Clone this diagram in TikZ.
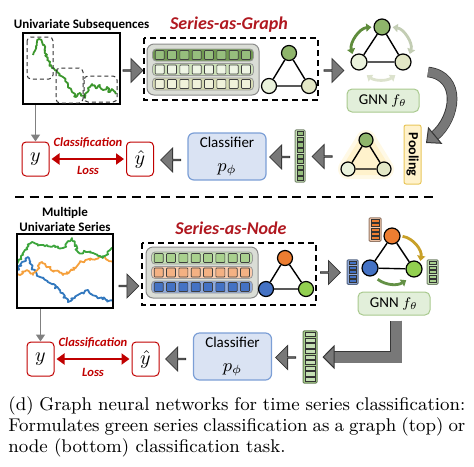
\documentclass[tikz,border=0pt]{standalone}
\usepackage{fontspec}
\setsansfont{Carlito}
\usetikzlibrary{shapes.arrows, arrows.meta, decorations.pathmorphing}

% Colours
\definecolor{titlered}{RGB}{176,24,32}
\definecolor{lossred}{RGB}{192,0,0}
\definecolor{nodegreen}{RGB}{143,181,107}
\definecolor{nodepale}{RGB}{234,242,220}
\definecolor{nodecream}{RGB}{227,231,198}
\definecolor{nodeorange}{RGB}{237,125,49}
\definecolor{nodeblue}{RGB}{68,114,196}
\definecolor{nodelime}{RGB}{146,208,80}
\definecolor{arrowgray}{RGB}{120,120,120}
\definecolor{arrowdark}{RGB}{55,55,55}
\definecolor{seriesgreen}{RGB}{60,150,45}
\definecolor{tsgreen}{RGB}{60,165,60}
\definecolor{tsorange}{RGB}{245,160,60}
\definecolor{tsblue}{RGB}{50,120,190}
\definecolor{rowAbg}{RGB}{112,153,80}
\definecolor{rowAfg}{RGB}{150,190,125}
\definecolor{rowBbg}{RGB}{205,225,185}
\definecolor{rowBfg}{RGB}{238,245,228}
\definecolor{rowCbg}{RGB}{215,220,180}
\definecolor{rowCfg}{RGB}{240,242,218}
\definecolor{greenbg}{RGB}{197,224,180}
\definecolor{greenfg}{RGB}{169,209,142}
\definecolor{orangebg}{RGB}{248,203,173}
\definecolor{orangefg}{RGB}{244,177,131}
\definecolor{bluebg}{RGB}{143,170,220}
\definecolor{bluefg}{RGB}{68,114,196}
\definecolor{encfill}{RGB}{218,221,214}
\definecolor{clsfill}{RGB}{218,227,243}
\definecolor{clsborder}{RGB}{124,159,214}
\definecolor{gnnfill}{RGB}{226,239,218}
\definecolor{gnnborder}{RGB}{169,201,142}
\definecolor{poolfill}{RGB}{255,242,204}
\definecolor{poolborder}{RGB}{232,198,90}
\definecolor{glowin}{RGB}{255,242,204}
\definecolor{glowout}{RGB}{255,249,230}
\definecolor{msgdark}{RGB}{95,140,60}
\definecolor{msglight}{RGB}{195,205,180}
\definecolor{msgpale}{RGB}{220,226,205}
\definecolor{msggold}{RGB}{200,160,40}
\definecolor{msggreen}{RGB}{100,145,70}

\tikzset{
  every node/.style={font=\sffamily},
  headtext/.style={font=\sffamily\bfseries\fontsize{6.5}{7.5}\selectfont, align=center},
  seriestitle/.style={text=titlered, font=\sffamily\bfseries\itshape\fontsize{9}{10}\selectfont},
  plotbox/.style={draw=black, line width=1pt, inner sep=0pt},
  winbox/.style={draw=black!80, line width=0.5pt, dash pattern=on 2pt off 1.5pt, rounded corners=2pt},
  seriesline/.style={line width=0.9pt, line join=round, decorate,
    decoration={random steps, segment length=0.9pt, amplitude=0.8pt}},
  dashbox/.style={draw=black, line width=0.8pt, dash pattern=on 3pt off 2pt},
  encbox/.style={draw=black!45, fill=encfill, line width=0.5pt, rounded corners=3.5pt,
    minimum width=56pt, minimum height=25.5pt, inner sep=0pt},
  rowbox/.style={draw=black!40, line width=0.4pt, rounded corners=1.8pt,
    minimum width=50.5pt, minimum height=6pt, inner sep=0pt},
  enccell/.style={draw=black!75, line width=0.35pt, rounded corners=0.4pt,
    minimum size=4.5pt, inner sep=0pt},
  gnode/.style={circle, draw=black, line width=0.6pt, minimum size=7.5pt, inner sep=0pt},
  bignode/.style={gnode, minimum size=8pt},
  gedge/.style={line width=0.7pt},
  blockarrow/.style={single arrow, draw=arrowdark, fill=arrowgray, line width=0.4pt, inner sep=0pt,
    minimum height=10pt, minimum width=12pt, single arrow head extend=2.8pt},
  leftarrow/.style={blockarrow, shape border rotate=180},
  bigarrow/.style={draw=arrowgray, line width=5.5pt, line join=miter,
    -{Triangle[length=6pt, width=12pt, color=arrowdark, fill=arrowgray, line width=0.5pt]},
    preaction={draw=arrowdark, line width=6.3pt, -, shorten >=5.5pt}},
  bendarrow/.style={draw=arrowgray, line width=4.5pt,
    -{Triangle[length=6pt, width=11pt, color=arrowdark, fill=arrowgray, line width=0.5pt]},
    preaction={draw=arrowdark, line width=5.3pt, -, shorten >=5.5pt}},
  msgarrow/.style={line width=1.4pt, shorten <=1pt, shorten >=1pt},
  msgtip/.style={{Triangle[length=2.6pt, width=4pt]}-{Triangle[length=2.6pt, width=4pt]}},
  vecbg/.style={line width=0.5pt, rounded corners=0.6pt, inner sep=0pt},
  veccell/.style={draw=black!80, line width=0.35pt, inner sep=0pt},
  gnnbox/.style={draw=gnnborder, fill=gnnfill, line width=0.5pt, rounded corners=2.5pt,
    minimum width=36pt, minimum height=11.5pt, inner sep=0pt, font=\sffamily\fontsize{7.5}{9}\selectfont},
  poolbox/.style={draw=poolborder, fill=poolfill, line width=0.5pt, rounded corners=1pt,
    minimum width=29.5pt, minimum height=8.5pt, inner sep=0pt, rotate=-90,
    font=\sffamily\bfseries\fontsize{7}{8}\selectfont},
  classbox/.style={draw=clsborder, fill=clsfill, line width=0.6pt, rounded corners=3pt,
    minimum width=39pt, minimum height=23.5pt, align=center, inner sep=0pt,
    font=\sffamily\fontsize{7.5}{9}\selectfont},
  labelbox/.style={draw=lossred, line width=0.5pt, rounded corners=2pt, minimum width=13.5pt,
    minimum height=17pt, inner sep=0pt, font=\fontsize{10}{12}\selectfont},
  lossarrow/.style={draw=lossred, line width=1.1pt, shorten <=1pt, shorten >=1pt,
    {Triangle[length=4pt, width=5.5pt]}-{Triangle[length=4pt, width=5.5pt]}},
  losstext/.style={text=lossred, font=\sffamily\bfseries\itshape\fontsize{6.3}{7}\selectfont},
  feed/.style={draw=black!50, line width=0.7pt, -{Triangle[length=3.5pt, width=4.5pt]}},
}

\begin{document}
\begin{tikzpicture}[x=0.5pt, y=-0.5pt]
\useasboundingbox (0,0) rectangle (474,466);
\pgfmathsetseed{11}

% ===== Series-as-Graph (top) =====
% Input series
\node[headtext] at (81.5,25) {Univariate Subsequences};
\begin{scope}
  \clip (23,33) rectangle (120,104);
  \draw[seriesline, draw=seriesgreen] (33,55) -- (36,46) -- (39,39) -- (42,42) -- (45,50) -- (48,60)
    -- (52,68) -- (57,72) -- (63,77) -- (68,85) -- (72,92) -- (76,97) -- (80,93) -- (85,98)
    -- (88,88) -- (92,84) -- (97,88) -- (100,85) -- (103,90) -- (107,87) -- (110,92) -- (113,90) -- (116,94);
\end{scope}
\node[plotbox, minimum width=48.5pt, minimum height=35.5pt] (plotA) at (71.5,68.5) {};
\foreach \a/\b/\c/\d in {27/37/53/79, 56/68/83/103, 84/76/117/102}
  \draw[winbox] (\a,\b) rectangle (\c,\d);

\node[blockarrow] (arA1) at (132.5,70.5) {};

% Encoded subsequences and graph
\node[seriestitle] at (229,25) {Series-as-Graph};
\draw[dashbox] (144,38) rectangle (318,100);
\node[encbox] (encA) at (203,69.5) {};
\foreach \dy/\bg/\fg in {-14.5/rowAbg/rowAfg, 0/rowBbg/rowBfg, 14.5/rowCbg/rowCfg}{
  \node[rowbox, fill=\bg] at (203,69.5+\dy) {};
  \foreach \k in {0,...,7}
    \node[enccell, fill=\fg] at (159.7+12.33*\k, 69.5+\dy) {};
}
\node[gnode, fill=nodegreen] (gA1) at (289,53) {};
\node[gnode, fill=nodepale] (gA2) at (269,86) {};
\node[gnode, fill=nodecream] (gA3) at (309,86) {};
\draw[gedge] (gA1) -- (gA2) -- (gA3) -- (gA1);

\node[blockarrow] (arA2) at (333.5,70.5) {};

% GNN message passing
\node[bignode, fill=nodegreen] (gC1) at (382,27) {};
\node[bignode, fill=nodepale] (gC2) at (359,62) {};
\node[bignode, fill=nodecream] (gC3) at (403,62) {};
\draw[gedge] (gC1) -- (gC2) -- (gC3) -- (gC1);
\draw[msgarrow, msgtip, draw=msgdark] (gC2.north west) to[bend left=50] (gC1.west);
\draw[msgarrow, msgtip, draw=msglight] (gC1.east) to[bend left=50] (gC3.north east);
\draw[msgarrow, msgtip, draw=msgpale] ([yshift=-3pt]gC2.south east) to[bend right=35] ([yshift=-3pt]gC3.south west);
\node[gnnbox] (gnnA) at (383,100.5) {GNN $f_\theta$};

% Pooling
\coordinate (gnnOut) at (428,72);
\coordinate (poolIn) at (426,143);
\draw[bendarrow] (gnnOut) .. controls (462,76) and (456,118) .. (poolIn);
\node[poolbox] (poolA) at (412.5,154.5) {Pooling};
\draw[glowout, line width=10pt, line join=round, fill=glowout] (366,140) -- (348,169) -- (384,169) -- cycle;
\draw[glowin, line width=6pt, line join=round, fill=glowin] (366,140) -- (348,169) -- (384,169) -- cycle;
\node[gnode, minimum size=7pt, fill=nodegreen] (gE1) at (366,140) {};
\node[gnode, minimum size=7pt, fill=nodepale] (gE2) at (348,169) {};
\node[gnode, minimum size=7pt, fill=nodecream] (gE3) at (384,169) {};
\draw[gedge] (gE1) -- (gE2) -- (gE3) -- (gE1);

\node[leftarrow] (arA3) at (322.5,156.5) {};

% Embedding vectors
\foreach \cx/\cy/\n/\w/\p/\bg/\fg/\nm in {300/156/9/10/5.6/greenbg/rowAfg/vecA, 310/357/9/14/5.6/greenfg/greenbg/vecB,
    375/229.5/5/12/4.3/orangebg/nodeorange/vecO, 352.5/272/5/11/4.5/bluebg/nodeblue/vecL, 432.5/272/5/11/4.5/greenbg/greenfg/vecR}{
  \node[vecbg, fill=\bg, draw=\bg!60!black, minimum width={\w*0.5pt}, minimum height={(\n*\p+2)*0.5pt}, name=\nm] at (\cx,\cy) {};
  \foreach \i in {1,...,\n}
    \node[veccell, fill=\fg, minimum width={(\w-4)*0.5pt}, minimum height={(\p-1.3)*0.5pt}] at (\cx, \cy+\i*\p-\n*\p/2-\p/2) {};
}

\node[leftarrow] (arA4) at (280,157) {};
\node[classbox] (clsA) at (227,156.5) {Classifier\\[3pt]{\fontsize{9}{10}\selectfont$p_\phi$}};
\node[leftarrow] (arA5) at (171,160) {};

% Loss
\node[labelbox] (yA) at (35.5,159) {$y$};
\node[labelbox] (yhA) at (140,159) {$\hat{y}$};
\draw[lossarrow] (yA) -- (yhA);
\node[losstext] at (88,143) {Classification};
\node[losstext] at (88,170) {Loss};
\draw[feed] (yA |- plotA.south) -- (yA.north);

% Separator
\draw[line width=1.3pt, dash pattern=on 4.5pt off 2.8pt] (15,197) -- (435,197);

% ===== Series-as-Node (bottom) =====
\node[headtext] at (65,219.5) {Multiple\\Univariate Series};
\begin{scope}
  \clip (17,234) rectangle (113,308);
  \draw[seriesline, draw=tsblue] (17,270) -- (22,262) -- (28,257) -- (32,268) -- (40,277) -- (50,283)
    -- (60,290) -- (68,302) -- (75,298) -- (83,293) -- (88,290) -- (97,297) -- (107,300) -- (114,302);
  \draw[seriesline, draw=tsorange] (17,275) -- (27,270) -- (33,275) -- (42,262) -- (50,268) -- (63,275)
    -- (72,270) -- (80,262) -- (90,260) -- (103,257) -- (114,263);
  \draw[seriesline, draw=tsgreen] (17,264) -- (25,250) -- (32,242) -- (40,245) -- (47,245) -- (55,247)
    -- (63,248) -- (72,238) -- (78,252) -- (86,252) -- (93,253) -- (103,258) -- (110,250) -- (114,247);
\end{scope}
\node[plotbox, minimum width=48pt, minimum height=37pt] (plotB) at (65,271) {};

\node[blockarrow] (arB1) at (128.5,286) {};

% Encoded series and graph
\node[seriestitle] at (231,228) {Series-as-Node};
\draw[dashbox] (142,243) rectangle (316,305);
\node[encbox] (encB) at (202,272.5) {};
\foreach \dy/\bg/\fg in {-14.5/greenbg/greenfg, 0/orangebg/orangefg, 14.5/bluebg/bluefg}{
  \node[rowbox, fill=\bg] at (202,272.5+\dy) {};
  \foreach \k in {0,...,7}
    \node[enccell, fill=\fg] at (158.7+12.33*\k, 272.5+\dy) {};
}
\node[gnode, fill=nodeorange] (gB1) at (285,258) {};
\node[gnode, fill=nodeblue] (gB2) at (266,289) {};
\node[gnode, fill=nodelime] (gB3) at (306,289) {};
\draw[gedge] (gB1) -- (gB2) -- (gB3) -- (gB1);

\node[blockarrow] (arB2) at (330,272.5) {};

% GNN node embeddings
\node[bignode, fill=nodeorange] (gD1) at (392,236) {};
\node[bignode, fill=nodeblue] (gD2) at (370,268) {};
\node[bignode, fill=nodelime] (gD3) at (414,269) {};
\draw[gedge] (gD1) -- (gD2) -- (gD3) -- (gD1);
\draw[msgarrow, draw=msggold, -{Triangle[length=2.6pt, width=4pt]}] (gD1.east) to[bend left=45] (gD3.north east);
\draw[msgarrow, draw=msggreen, -{Triangle[length=2.6pt, width=4pt]}] ([yshift=-2pt]gD2.south east) to[bend right=35] ([yshift=-2pt]gD3.south west);
\node[gnnbox] (gnnB) at (394,303.5) {GNN $f_\theta$};

\draw[bigarrow] ([xshift=1pt, yshift=-2.5pt]gnnB.south) |- ([xshift=2.5pt]vecB.east);

\node[leftarrow] (arB3) at (286,357.5) {};
\node[classbox] (clsB) at (232.5,356.5) {Classifier\\[3pt]{\fontsize{9}{10}\selectfont$p_\phi$}};
\node[leftarrow] (arB4) at (176,359) {};

% Loss
\node[labelbox] (yB) at (40.5,359) {$y$};
\node[labelbox] (yhB) at (145.5,359) {$\hat{y}$};
\draw[lossarrow] (yB) -- (yhB);
\node[losstext] at (93,343) {Classification};
\node[losstext] at (93,372) {Loss};
\draw[feed] (yB |- plotB.south) -- (yB.north);

% Caption
\node[anchor=north west, text width=228.5pt, inner sep=0pt, align=justify,
  font=\rmfamily\fontsize{9.2}{10.5}\selectfont] (caption) at (8,396)
  {(d) Graph neural networks for time series classification:\linebreak
   Formulates green series classification as a graph (top) or\linebreak
   node (bottom) classification task.};
\end{tikzpicture}
\end{document}
